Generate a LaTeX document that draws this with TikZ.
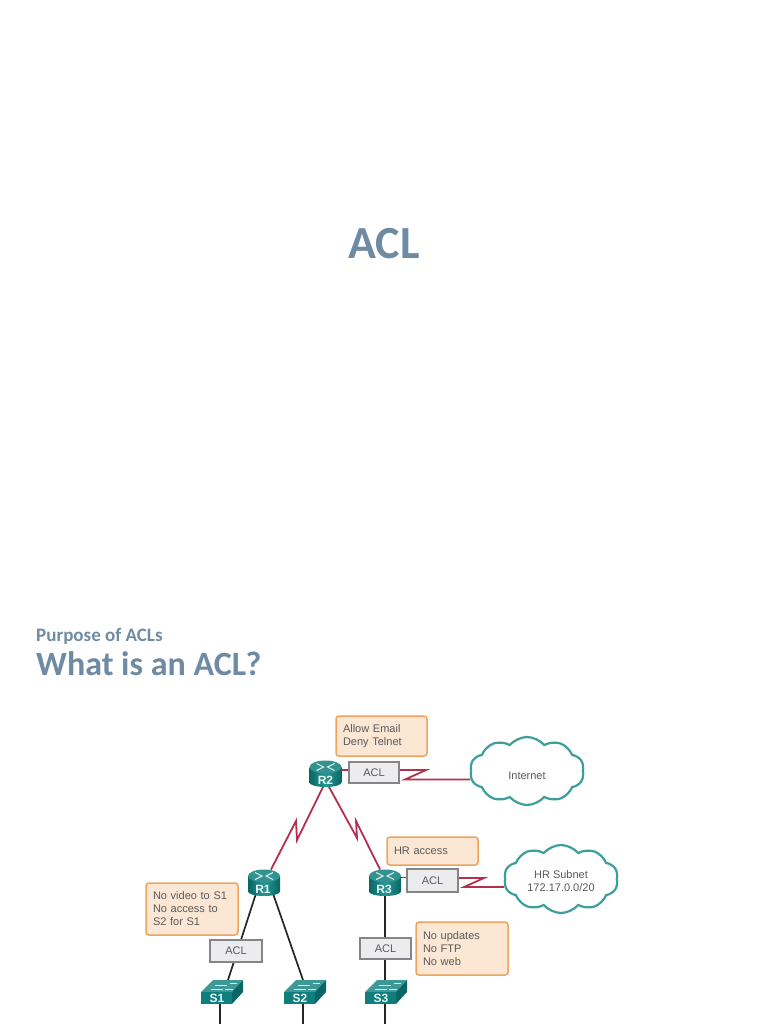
\documentclass[tikz,border=0pt]{standalone}
\usepackage{fontspec}
\setmainfont{Liberation Sans}
\newfontfamily\titlefont{Carlito}
\usetikzlibrary{shapes.symbols,backgrounds,calc}
\definecolor{slate}{HTML}{6F8BA3}
\definecolor{teal1}{HTML}{0E7F7C}
\definecolor{teal2}{HTML}{0A6664}
\definecolor{teal3}{HTML}{2FA39F}
\definecolor{cloudline}{HTML}{3C9F9C}
\definecolor{serialred}{HTML}{B4304F}
\definecolor{notefill}{HTML}{FCE6D4}
\definecolor{noteline}{HTML}{EFA35C}
\definecolor{aclfill}{HTML}{ECECEF}
\definecolor{aclline}{HTML}{858585}
\definecolor{labelgrey}{HTML}{5A5A5A}
\tikzset{
  note/.style={draw=noteline,fill=notefill,line width=1.5pt,rounded corners=3pt,font=\fontsize{11}{13}\selectfont,text=labelgrey,align=left,inner xsep=7pt,inner ysep=0pt},
  aclbox/.style={draw=aclline,fill=aclfill,line width=1.4pt,minimum width=50pt,minimum height=21pt,inner sep=0pt,font=\fontsize{11}{12}\selectfont,text=labelgrey},
  serial/.style={draw=serialred,line width=1.8pt,line join=miter},
  wired/.style={draw=black!85,line width=1.7pt},
  netcloud/.style={cloud,cloud puffs=10,cloud puff arc=100,aspect=1.7,draw=cloudline,fill=white,line width=2.2pt,inner sep=0pt,align=center,font=\fontsize{11}{13}\selectfont,text=labelgrey},
  devlabel/.style={font=\bfseries\fontsize{12}{13}\selectfont,text=white!90!teal3,inner sep=0pt},
  heading/.style={inner sep=0pt,anchor=base west,text=slate}
}
\newcommand{\routerbody}[2]{%
  \begin{scope}[shift={(#1,#2)}]
    \path[left color=teal2,right color=teal2,middle color=teal3!70!teal1] (-16,-6.5) -- (-16,9) arc[start angle=180,end angle=0,x radius=16,y radius=4.5] -- (16,-6.5) -- cycle;
    \fill[teal1!85!white] (0,-6.5) ellipse[x radius=16,y radius=6.5];
    \draw[white!85!teal1,line width=1.1pt] (-9,-10) -- (-2,-6.5) -- (-9,-3) (9,-10) -- (2,-6.5) -- (9,-3);
  \end{scope}}
\newcommand{\switchbody}[2]{%
  \begin{scope}[shift={(#1,#2)}]
    \fill[teal1!80!white] (-21,0) -- (-9,-12) -- (21,-12) -- (10,0) -- cycle;
    \fill[teal1] (-21,0) rectangle (10,12);
    \fill[teal2] (10,0) -- (21,-12) -- (21,0) -- (10,12) -- cycle;
    \draw[white!85!teal1,line width=1pt] (-11,-3) -- (1,-3) (-7,-7) -- (5,-7) (3,-3) -- (11,-3) (8,-9) -- (15,-9);
  \end{scope}}
\begin{document}
\begin{tikzpicture}[x=1pt,y=-1pt]
\useasboundingbox (0,0) rectangle (768,1024);
% headings
\node[font=\titlefont\bfseries\fontsize{46}{50}\selectfont,text=slate,inner sep=0pt] (title) at (384,244) {ACL};
\node[heading,font=\titlefont\bfseries\fontsize{19}{21}\selectfont] (purpose) at (36,641) {Purpose of ACLs};
\node[heading,font=\titlefont\bfseries\fontsize{34}{36}\selectfont] (what) at (36,675) {What is an ACL?};
% device bodies
\routerbody{325.5}{773.5}
\routerbody{264}{882.5}
\routerbody{385}{882.5}
\switchbody{222}{992}
\switchbody{305}{992}
\switchbody{386}{992}
% device nodes
\node[devlabel] (R2) at (325.5,780) {R2};
\node[devlabel] (R1) at (263,889.5) {R1};
\node[devlabel] (R3) at (384,889.5) {R3};
\node[devlabel] (S1) at (217,998) {S1};
\node[devlabel] (S2) at (300,998) {S2};
\node[devlabel] (S3) at (381,998) {S3};
% notes
\node[note,minimum width=91pt,minimum height=40pt,text width=77pt] (n2) at (381.5,736) {\raisebox{-1pt}{Allow Email}\\\raisebox{-1pt}{Deny Telnet}};
\node[note,minimum width=91pt,minimum height=28pt,text width=77pt] (n3) at (432.5,851) {HR access};
\node[note,minimum width=92pt,minimum height=53pt,text width=78pt] (n4) at (462,948.5) {No updates\\No FTP\\No web};
\node[note,minimum width=92pt,minimum height=52pt,text width=78pt] (n1) at (192,909) {No video to S1\\No access to\\S2 for S1};
% ACL boxes
\node[aclbox] (a2) at (374,772.5) {ACL};
\node[aclbox,minimum width=51pt,minimum height=23pt] (a3) at (432.5,880.5) {ACL};
\node[aclbox,minimum width=51pt] (a4) at (385.5,948.5) {ACL};
\node[aclbox,minimum width=52pt,minimum height=22pt] (a1) at (236,951) {ACL};
% clouds
\node[netcloud,minimum width=114pt,minimum height=68pt] (inet) at (527,771) {\raisebox{-8pt}[0pt][0pt]{Internet}};
\node[netcloud,minimum width=114pt,minimum height=68pt] (hr) at (561,879) {\raisebox{-6pt}[0pt][0pt]{\begin{tabular}{@{}c@{}}HR Subnet\\172.17.0.0/20\end{tabular}}};
% free ends
\coordinate (b1) at (220,1024);
\coordinate (b2) at (303,1024);
\coordinate (b3) at (385,1024);
\coordinate (z1) at (297,840);
\coordinate (z2) at (296,821);
\coordinate (z3) at (357,838);
\coordinate (z4) at (356,821);
\coordinate (z5) at (426,770);
\coordinate (z6) at (405,779.5);
\coordinate (z7) at (484,878);
\coordinate (z8) at (464,887);
\begin{scope}[on background layer]
  \draw[serial] ($(R2)+(-2,6)$) -- (z1) -- (z2) -- ($(R1)+(8,-20)$);
  \draw[serial] ($(R2)+(3,6)$) -- (z3) -- (z4) -- ($(R3)+(-4,-20)$);
  \draw[serial] ($(R2)+(15,-10)$) -- ($(a2.west)+(0,-2.5)$);
  \draw[serial] ($(a2.east)+(0,-2.5)$) -- (z5) -- (z6) -- (z6 -| inet.west);
  \draw[serial] ($(R3)+(15,-12)$) -- ($(a3.west)+(0,-3)$);
  \draw[serial] ($(a3.east)+(0,-2.5)$) -- (z7) -- (z8) -- (z8 -| hr.west);
  \draw[wired] ($(R1)+(-7,4)$) -- ($(S1)+(11,-18)$);
  \draw[wired] ($(R1)+(10,4)$) -- ($(S2)+(3,-18)$);
  \draw[wired] ($(R3)+(1,4)$) -- ($(S3)+(4,-18)$);
  \draw[wired] ($(S1)+(3,6)$) -- (b1);
  \draw[wired] ($(S2)+(3,6)$) -- (b2);
  \draw[wired] ($(S3)+(4,6)$) -- (b3);
\end{scope}
\end{tikzpicture}
\end{document}
